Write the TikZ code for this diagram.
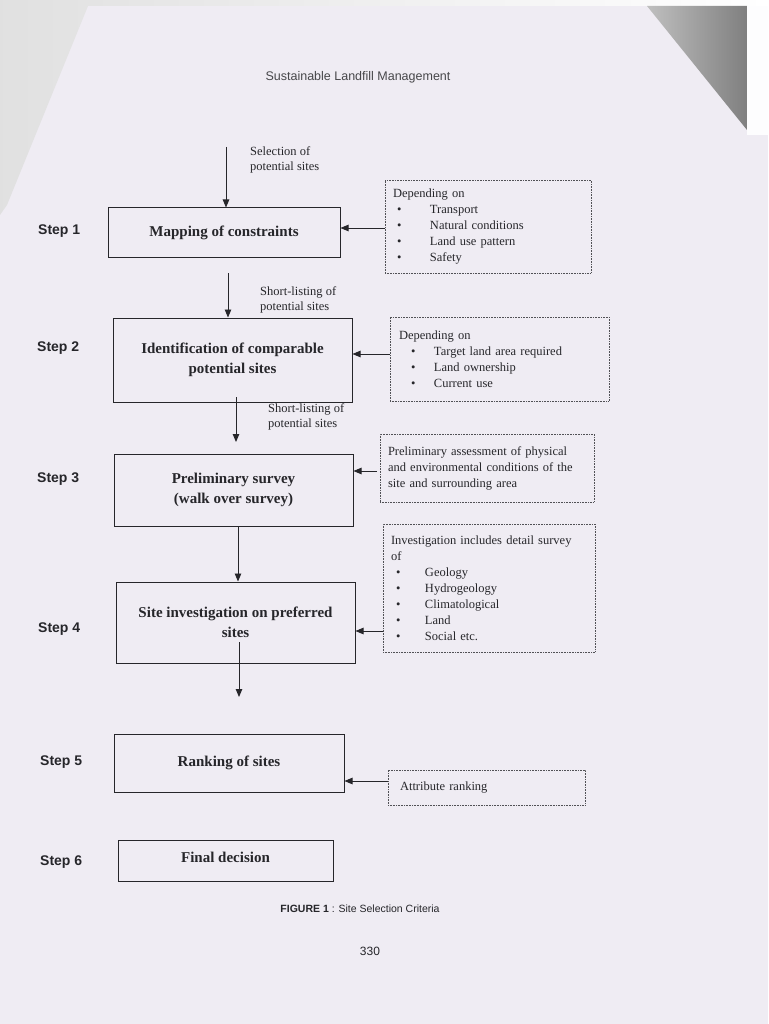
\documentclass[tikz,border=0pt]{standalone}
\usepackage{fontspec}
\setmainfont{Liberation Serif}
\setsansfont{Liberation Sans}
\usepackage{xcolor}
\usetikzlibrary{arrows.meta}
\definecolor{paper}{RGB}{239,236,243}
\definecolor{ink}{RGB}{38,38,42}
\newcommand{\litem}[3]{\hspace*{#1}\makebox[#2][l]{\textbullet}#3}

\begin{document}
\begin{tikzpicture}[x=1pt,y=-1pt,
    stepbox/.style={draw=ink,line width=1pt,inner sep=0pt,align=center,text=ink,
      font=\fontsize{15}{20}\selectfont\bfseries},
    notebox/.style={draw=ink!80,densely dotted,line width=0.6pt,inner xsep=8pt,inner ysep=0pt,
      align=left,text=ink,font=\fontsize{12.5}{16}\selectfont},
    steplabel/.style={anchor=west,inner sep=0pt,text=ink,font=\sffamily\bfseries\fontsize{14}{16}\selectfont},
    flowlabel/.style={anchor=west,inner sep=0pt,align=left,text=ink,font=\fontsize{12.5}{15}\selectfont},
    flow/.style={draw=ink,line width=0.9pt,-{Triangle[length=8pt,width=6.5pt]}}]
  \useasboundingbox (0,0) rectangle (768,1024);
  \fill [paper] (0,0) rectangle (768,1024);
  \shade [left color=black!12,right color=white] (0,0) -- (768,0) -- (768,6) -- (88,6) -- (7,205) -- (0,215) -- cycle;
  \shade [left color=black!25,right color=black!50] (647,6) -- (747,6) -- (747,130) -- cycle;
  \fill [white!90!paper] (747,6) rectangle (768,135);

  \node [text=ink!85,font=\sffamily\fontsize{12.5}{14}\selectfont] (header) at (358,77) {Sustainable Landfill Management};

  % steps
  \node [stepbox,minimum width=232pt,minimum height=49pt] (box1) at (224,232.5) {Mapping of constraints};
  \node [stepbox,minimum width=239pt,minimum height=84pt] (box2) at (232.5,360) {Identification of comparable\\potential sites};
  \node [stepbox,minimum width=239pt,minimum height=72pt] (box3) at (233.5,490) {Preliminary survey\\(walk over survey)};
  \node [stepbox,minimum width=239pt,minimum height=81pt] (box4) at (235.5,622.5) {Site investigation on preferred\\sites};
  \node [stepbox,minimum width=230pt,minimum height=58pt] (box5) at (229,763) {Ranking of sites};
  \node [stepbox,minimum width=215pt,minimum height=41pt] (box6) at (225.5,860.5) {\raisebox{7pt}{Final decision}};

  \node [steplabel] (lab1) at (38,231) {Step 1};
  \node [steplabel] (lab2) at (37,348) {Step 2};
  \node [steplabel] (lab3) at (37,479) {Step 3};
  \node [steplabel] (lab4) at (38,629) {Step 4};
  \node [steplabel] (lab5) at (40,762) {Step 5};
  \node [steplabel] (lab6) at (40,862) {Step 6};

  % criteria
  \node [notebox,minimum width=206pt,minimum height=93pt,text width=190pt] (note1) at (488,226.5)
    {Depending on\\\litem{4pt}{33pt}{Transport}\\\litem{4pt}{33pt}{Natural conditions}\\
     \litem{4pt}{33pt}{Land use pattern}\\\litem{4pt}{33pt}{Safety}};
  \node [notebox,minimum width=219pt,minimum height=84pt,text width=201pt,inner xsep=9pt] (note2) at (499.5,359)
    {Depending on\\\litem{12pt}{23pt}{Target land area required}\\\litem{12pt}{23pt}{Land ownership}\\
     \litem{12pt}{23pt}{Current use}};
  \node [notebox,minimum width=214pt,minimum height=68pt,text width=198pt] (note3) at (487,468)
    {Preliminary assessment of physical\\and environmental conditions of the\\site and surrounding area\\[6pt]};
  \node [notebox,minimum width=212pt,minimum height=128pt,text width=196pt] (note4) at (489,588)
    {Investigation includes detail survey\\of\\\litem{5pt}{29pt}{Geology}\\\litem{5pt}{29pt}{Hydrogeology}\\
     \litem{5pt}{29pt}{Climatological}\\\litem{5pt}{29pt}{Land}\\\litem{5pt}{29pt}{Social etc.}};
  \node [notebox,minimum width=197pt,minimum height=35pt,text width=173pt,inner xsep=12pt] (note5) at (486.5,787.5)
    {Attribute ranking};

  % flow labels
  \node [flowlabel] (sel) at (250,160) {Selection of\\potential sites};
  \node [flowlabel] (short1) at (260,299.5) {Short-listing of\\potential sites};
  \node [flowlabel] (short2) at (268,416.5) {Short-listing of\\potential sites};

  % connectors
  \coordinate (s1) at (226,147);
  \coordinate (s2) at (228,273);
  \coordinate (s3) at (236,397);
  \coordinate (e3) at (236,442);
  \coordinate (s5) at (239,642);
  \coordinate (e5) at (239,697);
  \draw [flow] (s1) -- (s1 |- box1.north);
  \draw [flow] (s2) -- (s2 |- box2.north);
  \draw [flow] (s3) -- (e3);
  \draw [flow] (box3.south -| 238,0) -- (box4.north -| 238,0);
  \draw [flow] (s5) -- (e5);

  \coordinate (a1) at (note1.west |- 0,228);
  \coordinate (a2) at (note2.west |- 0,354);
  \coordinate (a3) at (377,471);
  \coordinate (a4) at (note4.west |- 0,631);
  \coordinate (a5) at (note5.west |- 0,781);
  \draw [flow] (a1) -- (a1 -| box1.east);
  \draw [flow] (a2) -- (a2 -| box2.east);
  \draw [flow] (a3) -- (a3 -| box3.east);
  \draw [flow] (a4) -- (a4 -| box4.east);
  \draw [flow] (a5) -- (a5 -| box5.east);

  \node [text=ink,font=\sffamily\fontsize{10.5}{12}\selectfont] (caption) at (360,909)
    {\textbf{FIGURE 1} : Site Selection Criteria};
  \node [text=ink,font=\sffamily\fontsize{12}{14}\selectfont] (pageno) at (370,951) {330};
\end{tikzpicture}
\end{document}
